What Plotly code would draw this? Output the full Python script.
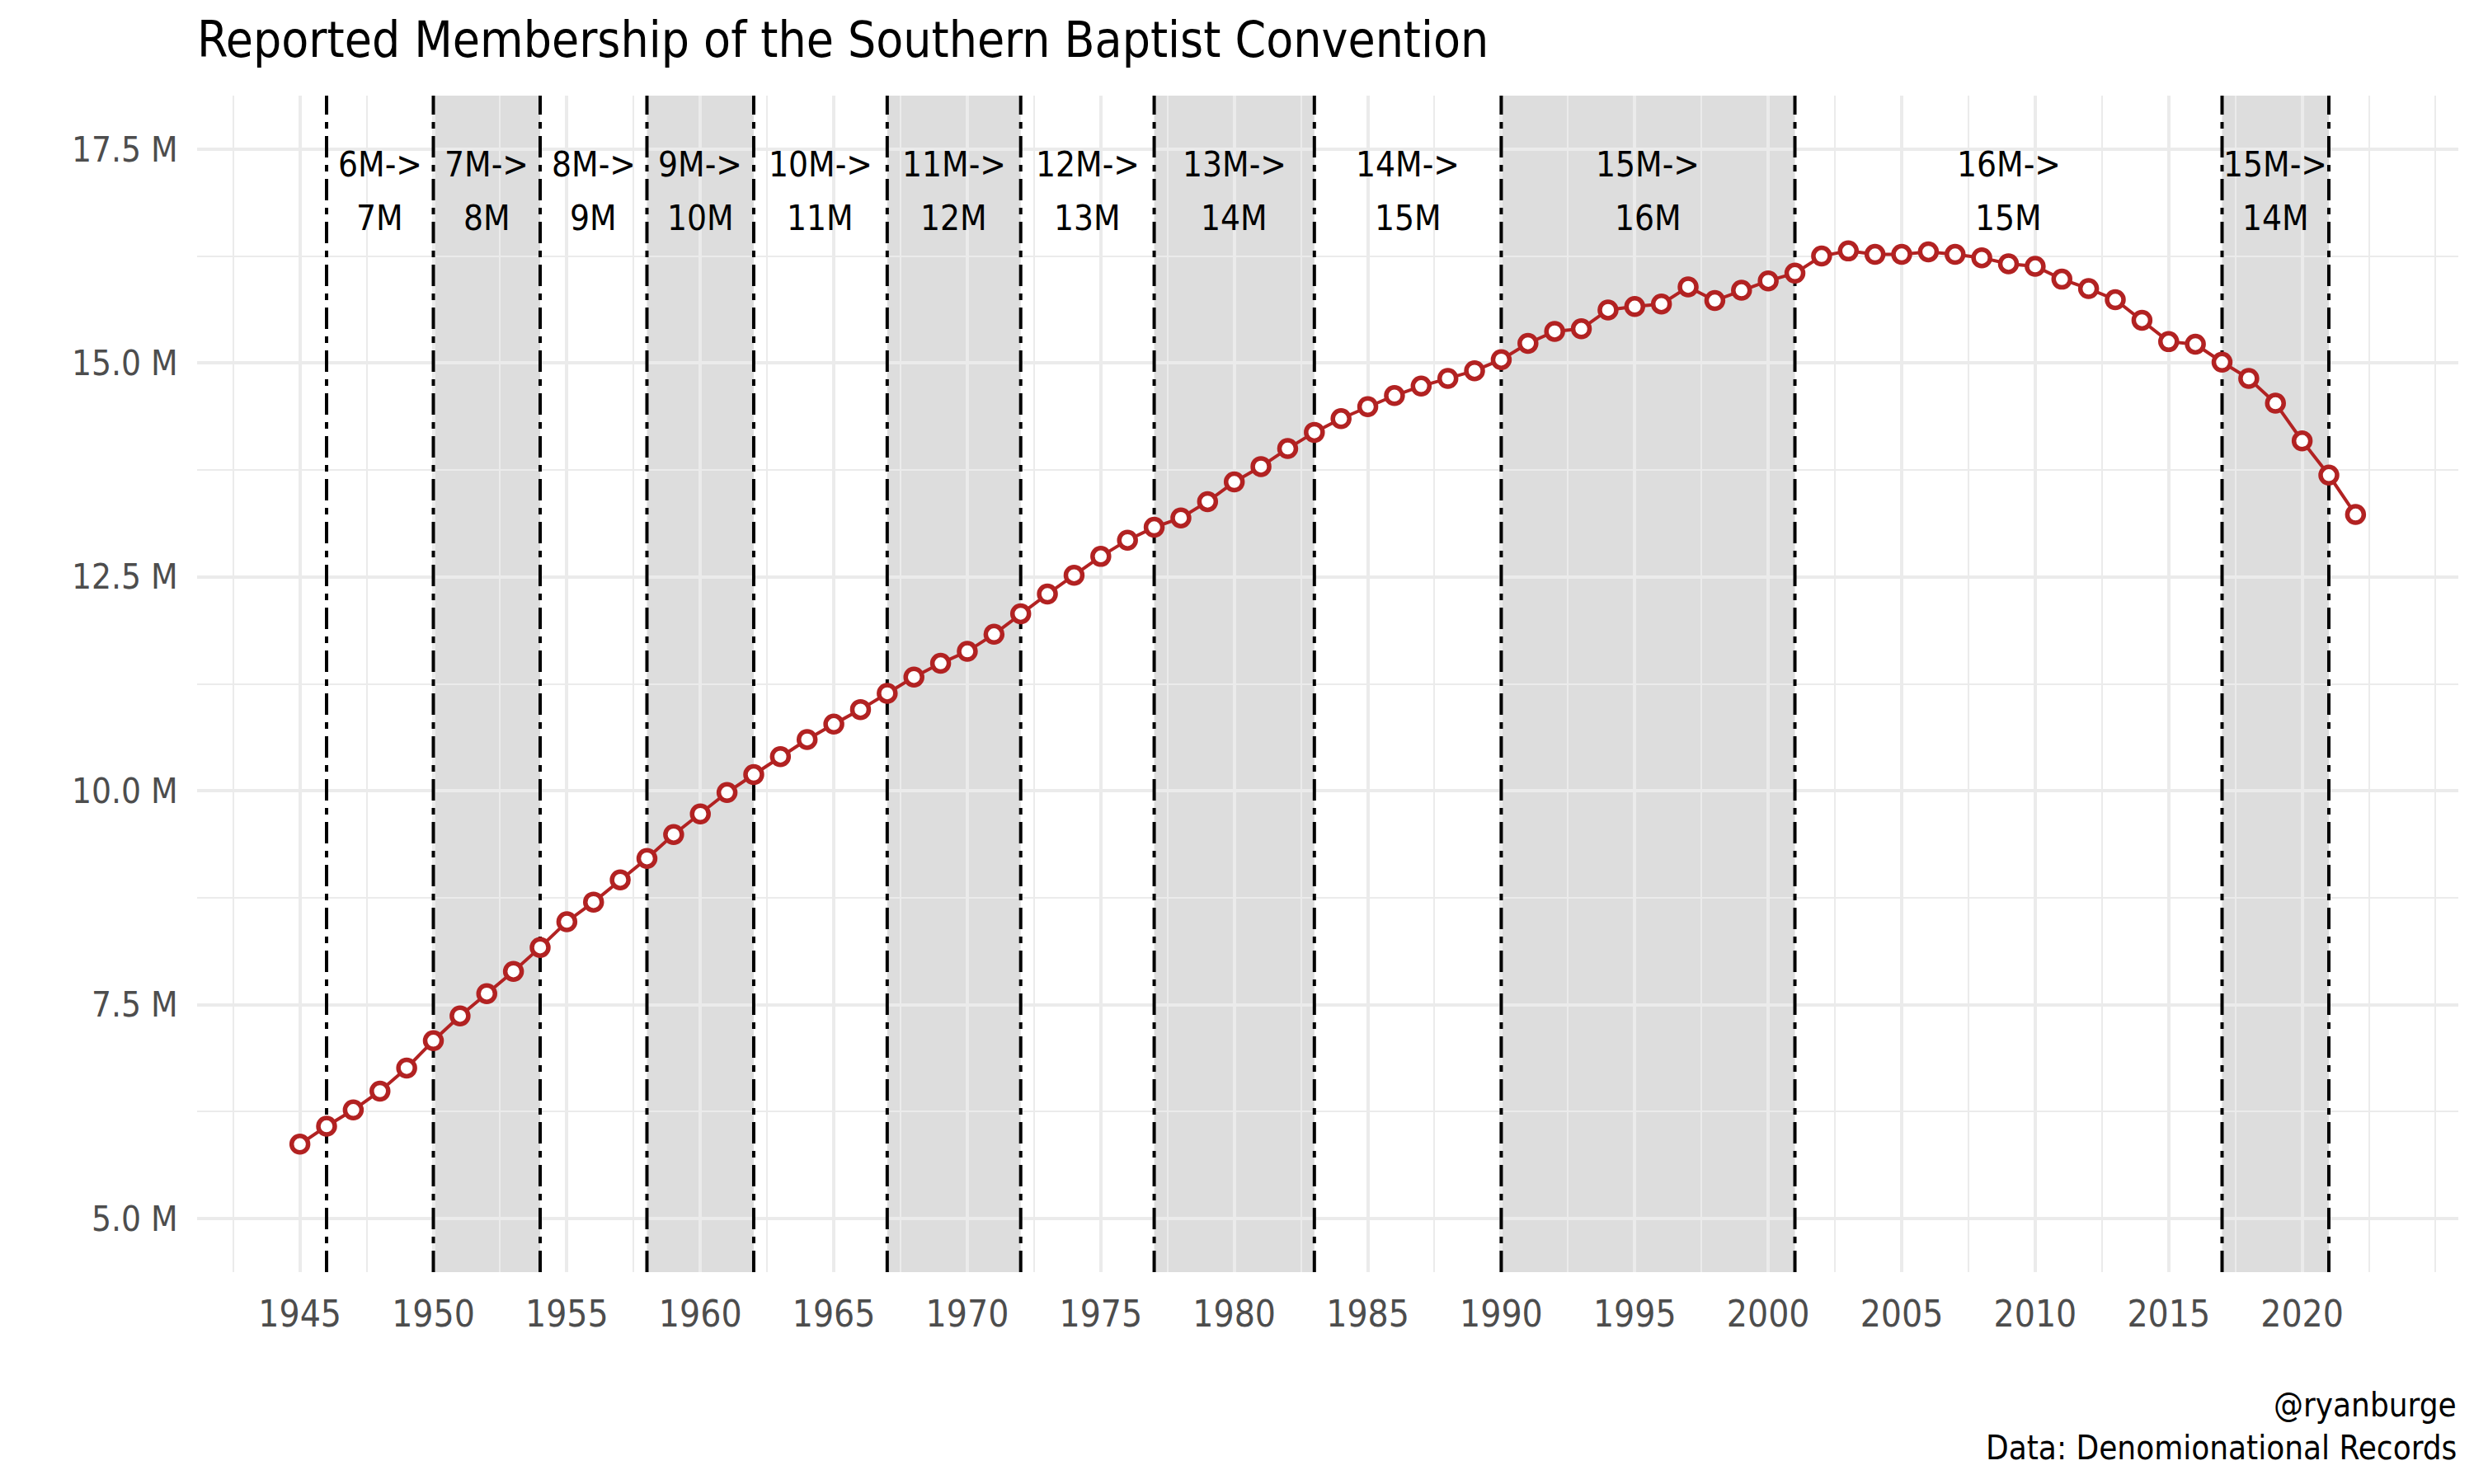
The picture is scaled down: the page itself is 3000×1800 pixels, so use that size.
import plotly.graph_objects as go

# Reported SBC membership, millions
years = [1945, 1946, 1947, 1948, 1949, 1950, 1951, 1952, 1953, 1954,
         1955, 1956, 1957, 1958, 1959, 1960, 1961, 1962, 1963, 1964,
         1965, 1966, 1967, 1968, 1969, 1970, 1971, 1972, 1973, 1974,
         1975, 1976, 1977, 1978, 1979, 1980, 1981, 1982, 1983, 1984,
         1985, 1986, 1987, 1988, 1989, 1990, 1991, 1992, 1993, 1994,
         1995, 1996, 1997, 1998, 1999, 2000, 2001, 2002, 2003, 2004,
         2005, 2006, 2007, 2008, 2009, 2010, 2011, 2012, 2013, 2014,
         2015, 2016, 2017, 2018, 2019, 2020, 2021, 2022]
members = [5.87, 6.08, 6.27, 6.49, 6.76, 7.08, 7.37, 7.63, 7.89, 8.17,
           8.47, 8.70, 8.96, 9.21, 9.49, 9.73, 9.98, 10.19, 10.40, 10.60,
           10.78, 10.95, 11.14, 11.33, 11.49, 11.63, 11.83, 12.07, 12.30, 12.52,
           12.74, 12.93, 13.08, 13.19, 13.38, 13.61, 13.79, 14.00, 14.19, 14.35,
           14.49, 14.62, 14.73, 14.82, 14.91, 15.04, 15.23, 15.37, 15.40, 15.62,
           15.66, 15.69, 15.89, 15.73, 15.85, 15.96, 16.05, 16.25, 16.31, 16.27,
           16.27, 16.30, 16.27, 16.23, 16.16, 16.13, 15.98, 15.87, 15.74, 15.50,
           15.25, 15.22, 15.01, 14.82, 14.53, 14.09, 13.69, 13.23]

# years where membership crossed a million mark
cross_years = [1946, 1950, 1954, 1958, 1962, 1967, 1972, 1977, 1983, 1990, 2001, 2017, 2021]
shade_start = [1950, 1958, 1967, 1977, 1990, 2017]
shade_end = [1954, 1962, 1972, 1983, 2001, 2021]

label_x = [1948, 1952, 1956, 1960, 1964.5, 1969.5, 1974.5, 1980, 1986.5, 1995.5, 2009, 2019]
label_from = ["6M->", "7M->", "8M->", "9M->", "10M->", "11M->", "12M->", "13M->",
              "14M->", "15M->", "16M->", "15M->"]
label_to = ["7M", "8M", "9M", "10M", "11M", "12M", "13M", "14M",
            "15M", "16M", "15M", "14M"]

x_ticks = [1945, 1950, 1955, 1960, 1965, 1970, 1975, 1980, 1985, 1990,
           1995, 2000, 2005, 2010, 2015, 2020]
y_ticks = [5.0, 7.5, 10.0, 12.5, 15.0, 17.5]
y_tick_text = ["5.0 M", "7.5 M", "10.0 M", "12.5 M", "15.0 M", "17.5 M"]

Y_RANGE = [4.375, 18.125]
FONT = "Liberation Sans Narrow, DejaVu Sans Condensed, Roboto, sans-serif"
RED = "#B22222"

fig = go.Figure()

# dot-dash markers for each crossing, drawn under the data line
for yr in cross_years:
    fig.add_trace(go.Scatter(
        x=[yr, yr], y=Y_RANGE, mode="lines",
        line=dict(color="black", width=4, dash="26px,9px,8px,9px"),
        showlegend=False, hoverinfo="skip",
    ))

fig.add_trace(go.Scatter(
    x=years, y=members, mode="lines+markers",
    line=dict(color=RED, width=4),
    marker=dict(symbol="circle", size=20, color="white", line=dict(color=RED, width=5.5)),
    showlegend=False, hoverinfo="x+y",
))

shapes = []
for s, e in zip(shade_start, shade_end):
    shapes.append(dict(type="rect", xref="x", yref="paper", x0=s, x1=e, y0=0, y1=1,
                       fillcolor="rgba(150,150,150,0.32)", line=dict(width=0), layer="between"))

annotations = []
for lx, top, bot in zip(label_x, label_from, label_to):
    annotations.append(dict(x=lx, y=17.32, xref="x", yref="y", text=top, showarrow=False,
                            font=dict(family=FONT, size=42, color="black")))
    annotations.append(dict(x=lx, y=16.69, xref="x", yref="y", text=bot, showarrow=False,
                            font=dict(family=FONT, size=42, color="black")))

annotations.append(dict(x=1, y=-0.113, xref="paper", yref="paper", text="@ryanburge",
                        showarrow=False, xanchor="right", yanchor="middle",
                        font=dict(family=FONT, size=40, color="black")))
annotations.append(dict(x=1, y=-0.149, xref="paper", yref="paper", text="Data: Denomionational Records",
                        showarrow=False, xanchor="right", yanchor="middle",
                        font=dict(family=FONT, size=40, color="black")))

fig.update_layout(
    width=3000, height=1800,
    margin=dict(l=231, r=27, t=108, b=265, autoexpand=False),
    paper_bgcolor="white", plot_bgcolor="white",
    font=dict(family=FONT, color="#4D4D4D"),
    title=dict(text="Reported Membership of the Southern Baptist Convention",
               x=0, xref="paper", xanchor="left", y=0.978, yref="container", yanchor="middle",
               font=dict(family=FONT, size=60, color="black")),
    shapes=shapes, annotations=annotations,
)

fig.update_xaxes(
    range=[1941.15, 2025.85], tickvals=x_ticks, tickfont=dict(size=44, color="#4D4D4D"),
    showgrid=True, gridcolor="#EBEBEB", gridwidth=3.5,
    minor=dict(dtick=2.5, tick0=1942.5, showgrid=True, gridcolor="#EBEBEB", gridwidth=1.8),
    ticks="outside", ticklen=12, tickcolor="rgba(0,0,0,0)",
    zeroline=False, showline=False,
)
fig.update_yaxes(
    range=Y_RANGE, tickvals=y_ticks, ticktext=y_tick_text,
    tickfont=dict(size=42, color="#4D4D4D"),
    showgrid=True, gridcolor="#EBEBEB", gridwidth=3.5,
    minor=dict(dtick=1.25, tick0=3.75, showgrid=True, gridcolor="#EBEBEB", gridwidth=1.8),
    ticks="outside", ticklen=14, tickcolor="rgba(0,0,0,0)",
    zeroline=False, showline=False,
)

fig.write_html("out.html")
